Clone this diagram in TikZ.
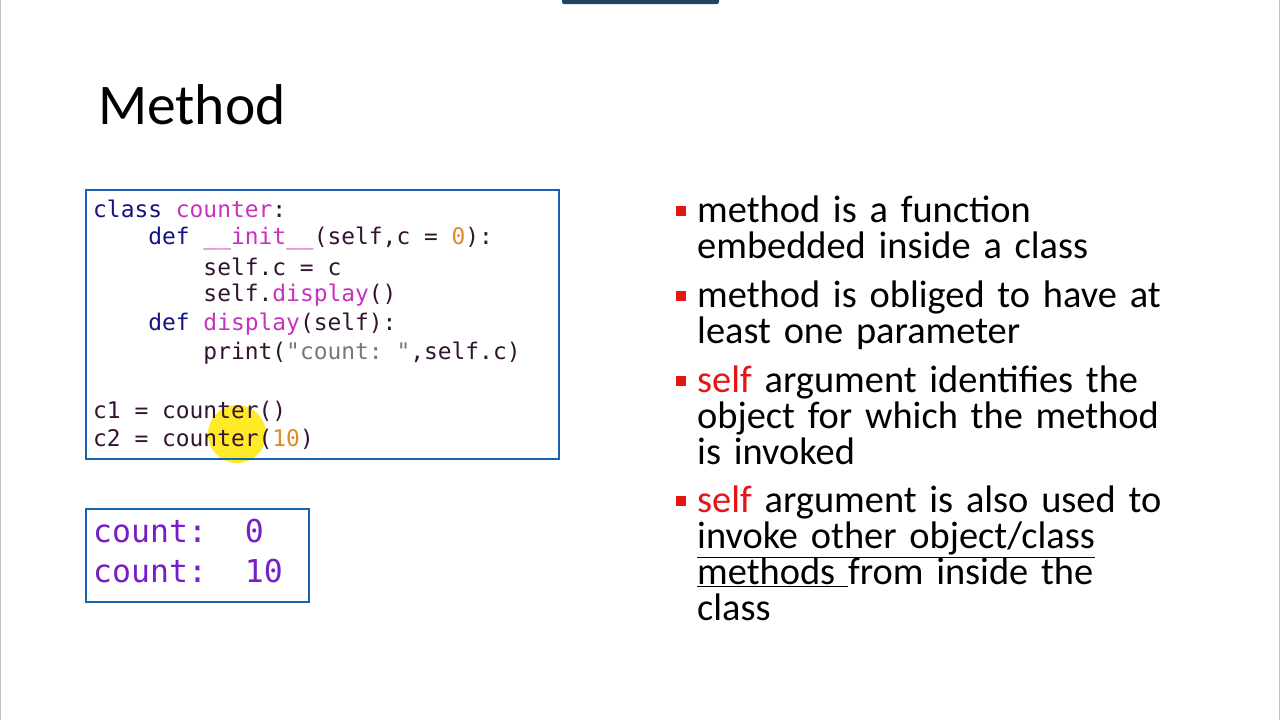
\documentclass[tikz,border=0pt]{standalone}
\usepackage{fontspec}
\setmainfont{Carlito}
\setmonofont{DejaVu Sans Mono}
\definecolor{kw}{RGB}{20,20,130}
\definecolor{fn}{RGB}{200,50,190}
\definecolor{num}{RGB}{220,140,40}
\definecolor{tx}{RGB}{50,20,50}
\definecolor{str}{RGB}{120,120,120}
\definecolor{boxb}{RGB}{20,100,180}
\definecolor{outc}{RGB}{120,30,200}
\definecolor{bred}{RGB}{230,20,20}
\begin{document}
\begin{tikzpicture}[x=1pt,y=-1pt,
 code/.style={anchor=west,inner sep=0pt,font=\fontsize{22.9}{23}\ttfamily,text=tx},
 outl/.style={anchor=west,inner sep=0pt,font=\fontsize{31.5}{32}\ttfamily,text=outc},
 bul/.style={anchor=north west,inner sep=0pt,align=left,text width=530pt,font=\fontsize{38.4}{36}\selectfont},
 sq/.style={fill=bred,minimum size=10pt,inner sep=0pt}]
\useasboundingbox (0,0) rectangle (1280,720);
\fill[white] (0,0) rectangle (1280,720);
\draw[gray!50] (0.5,0) -- (0.5,720) (1279.5,0) -- (1279.5,720);
\fill[rounded corners=2pt,fill={rgb,255:red,30;green,70;blue,100}] (562,-4) rectangle (719,4);
\node[anchor=west,inner sep=0pt,font=\fontsize{57.5}{57}\selectfont] (title) at (98,105) {Method};
\fill[yellow!90!orange,opacity=0.85] (237,434) circle (29);
\draw[boxb,line width=2pt] (86,190) rectangle (559,459);
\node[code] (l1) at (93,209) {\textcolor{kw}{class} \textcolor{fn}{counter}:};
\node[code] (l2) at (93,238) {\phantom{xxxx}\textcolor{kw}{def} \textcolor{fn}{\_\_init\_\_}(self,c = \textcolor{num}{0}):};
\node[code] (l3) at (93,267) {\phantom{xxxxxxxx}self.c = c};
\node[code] (l4) at (93,295) {\phantom{xxxxxxxx}self.\textcolor{fn}{display}()};
\node[code] (l5) at (93,324) {\phantom{xxxx}\textcolor{kw}{def} \textcolor{fn}{display}(self):};
\node[code] (l6) at (93,353) {\phantom{xxxxxxxx}print(\textcolor{str}{"count: "},self.c)};
\node[code] (l7) at (93,411) {c1 = counter()};
\node[code] (l8) at (93,439) {c2 = counter(\textcolor{num}{10})};
\draw[boxb,line width=2pt] (86,509) rectangle (309,602);
\node[outl] (o1) at (93,531) {count:\ \ 0};
\node[outl] (o2) at (93,571) {count:\ \ 10};
\node[sq] (s1) at (681,211) {};
\node[bul] (b1) at (697,196) {method is a function\\embedded inside a class};
\node[sq] (s2) at (681,296) {};
\node[bul] (b2) at (697,281) {method is obliged to have at\\least one parameter};
\node[sq] (s3) at (681,381) {};
\node[bul] (b3) at (697,366) {\textcolor{bred}{self} argument identifies the\\object for which the method\\is invoked};
\node[sq] (s4) at (681,501) {};
\node[bul] (b4) at (697,486) {\textcolor{bred}{self} argument is also used to\\\underline{invoke other object/class}\\\underline{methods }from inside the\\class};
\end{tikzpicture}
\end{document}
